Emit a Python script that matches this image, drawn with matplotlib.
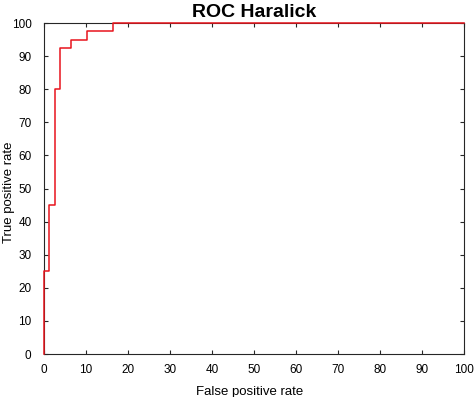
import matplotlib
matplotlib.use('Agg')
import matplotlib.pyplot as plt

plt.rcParams['font.family'] = ['Liberation Sans', 'DejaVu Sans']

# ROC step points (false positive rate %, true positive rate %)
fpr = [0, 0, 1.2, 1.2, 2.7, 2.7, 3.9, 3.9, 6.4, 6.4, 10.3, 10.3, 16.5, 16.5, 100]
tpr = [0, 25, 25, 45, 45, 80, 80, 92.5, 92.5, 95, 95, 97.5, 97.5, 100, 100]
ticks = list(range(0, 101, 10))

fig = plt.figure(figsize=(4.74, 3.97), dpi=100)
ax = fig.add_axes([0.0928, 0.1083, 0.8862, 0.8337])
ax.plot(fpr, tpr, color='#e8141c', linewidth=1.1, clip_on=False, zorder=5)
ax.set_xlim(0, 100)
ax.set_ylim(0, 100)
ax.set_xticks(ticks)
ax.set_yticks(ticks)
ax.tick_params(direction='in', top=True, right=True, length=3, width=0.8,
               labelsize=8.5, colors='#262626', labelcolor='black')
ax.tick_params(axis='x', pad=7.5)
ax.tick_params(axis='y', pad=9)
for s in ax.spines.values():
    s.set_color('#262626')
    s.set_linewidth(0.8)
ax.set_xlabel('False positive rate', fontsize=9.5)
ax.set_ylabel('True positive rate', fontsize=9.5)
ax.xaxis.set_label_coords(0.49, -0.098)
ax.yaxis.set_label_coords(-0.07, 0.49)
ax.set_title('ROC Haralick', fontsize=14, fontweight='bold', pad=4)

fig.savefig('out.png', dpi=100)
